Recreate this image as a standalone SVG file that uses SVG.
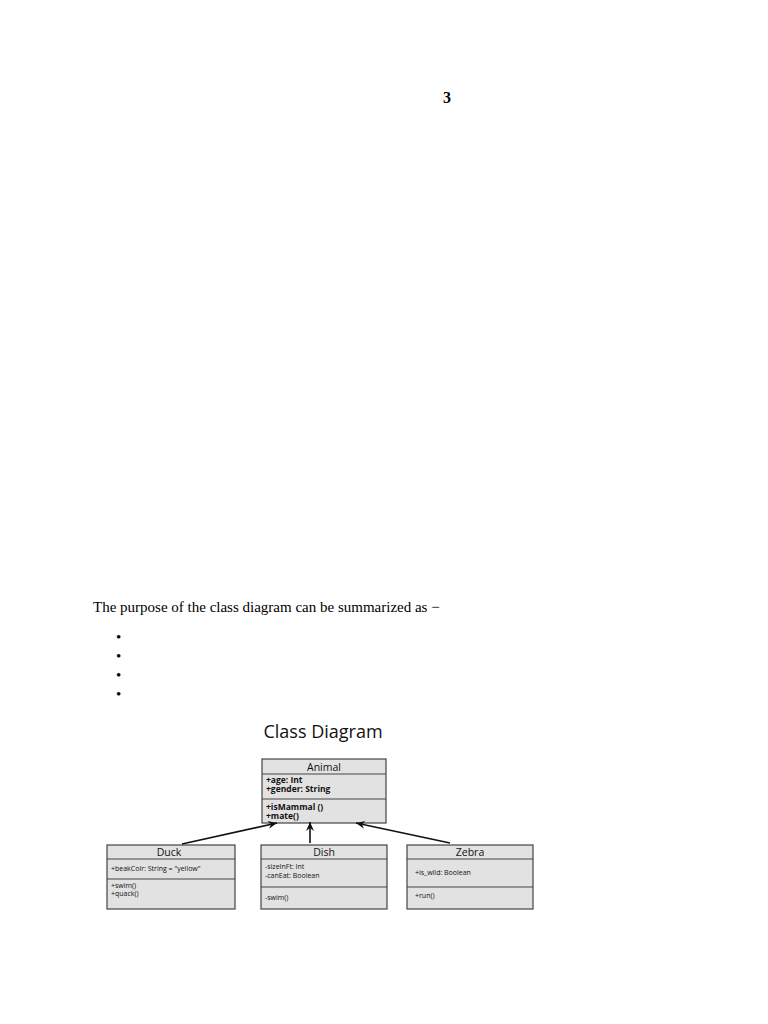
<svg xmlns="http://www.w3.org/2000/svg" width="768" height="1024" viewBox="0 0 768 1024">
<style>
.s{font-family:"Liberation Serif",serif;fill:#000}
.t{font-family:"Open Sans","DejaVu Sans",sans-serif;fill:#111}
.box{fill:#e2e2e2;stroke:#444;stroke-width:1.2}
.ln{stroke:#444;stroke-width:1}
.c{stroke:#111;stroke-width:1.6;fill:none}
</style>
<defs><marker id="ah" markerWidth="10" markerHeight="10" refX="9" refY="5" orient="auto" markerUnits="userSpaceOnUse"><path d="M0,1 L9,5 L0,9 L3,5 Z" fill="#111"/></marker></defs>
<rect width="768" height="1024" fill="#fff"/>
<text class="s" x="447" y="103" font-size="16" font-weight="bold" text-anchor="middle">3</text>
<text class="s" x="93" y="612" font-size="15">The purpose of the class diagram can be summarized as −</text>
<g class="s" font-size="15"><text x="116" y="642">•</text><text x="116" y="661">•</text><text x="116" y="680">•</text><text x="116" y="699">•</text></g>
<text class="t" x="323" y="738" font-size="18" text-anchor="middle">Class Diagram</text>
<g id="animal"><rect class="box" x="262" y="759" width="124" height="64"/>
<line class="ln" x1="262" y1="774" x2="386" y2="774"/><line class="ln" x1="262" y1="799" x2="386" y2="799"/>
<text class="t" x="324" y="771" font-size="10.5" text-anchor="middle">Animal</text>
<text class="t" x="266" y="783" font-size="8.5" font-weight="bold">+age: Int</text>
<text class="t" x="266" y="792" font-size="8.5" font-weight="bold">+gender: String</text>
<text class="t" x="266" y="810" font-size="8.5" font-weight="bold">+isMammal ()</text>
<text class="t" x="266" y="819" font-size="8.5" font-weight="bold">+mate()</text></g>
<g id="duck"><rect class="box" x="107" y="845" width="128" height="64"/>
<line class="ln" x1="107" y1="859" x2="235" y2="859"/><line class="ln" x1="107" y1="879" x2="235" y2="879"/>
<text class="t" x="169" y="856" font-size="10.5" text-anchor="middle">Duck</text>
<text class="t" x="111" y="871" font-size="7">+beakColr: String = "yellow"</text>
<text class="t" x="111" y="888" font-size="7">+swim()</text>
<text class="t" x="111" y="896" font-size="7">+quack()</text></g>
<g id="dish"><rect class="box" x="261" y="845" width="126" height="64"/>
<line class="ln" x1="261" y1="859" x2="387" y2="859"/><line class="ln" x1="261" y1="887" x2="387" y2="887"/>
<text class="t" x="324" y="856" font-size="10.5" text-anchor="middle">Dish</text>
<text class="t" x="265" y="869" font-size="7">-sizeInFt: Int</text>
<text class="t" x="265" y="878" font-size="7">-canEat: Boolean</text>
<text class="t" x="265" y="900" font-size="7">-swim()</text></g>
<g id="zebra"><rect class="box" x="407" y="845" width="126" height="64"/>
<line class="ln" x1="407" y1="859" x2="533" y2="859"/><line class="ln" x1="407" y1="887" x2="533" y2="887"/>
<text class="t" x="470" y="856" font-size="10.5" text-anchor="middle">Zebra</text>
<text class="t" x="415" y="875" font-size="7">+is_wild: Boolean</text>
<text class="t" x="415" y="898" font-size="7">+run()</text></g>
<g id="connectors">
<line class="c" x1="182" y1="844" x2="277" y2="823" marker-end="url(#ah)"/>
<line class="c" x1="310" y1="843" x2="310" y2="822" marker-end="url(#ah)"/>
<line class="c" x1="450" y1="843" x2="356" y2="823" marker-end="url(#ah)"/>
</g>
</svg>
